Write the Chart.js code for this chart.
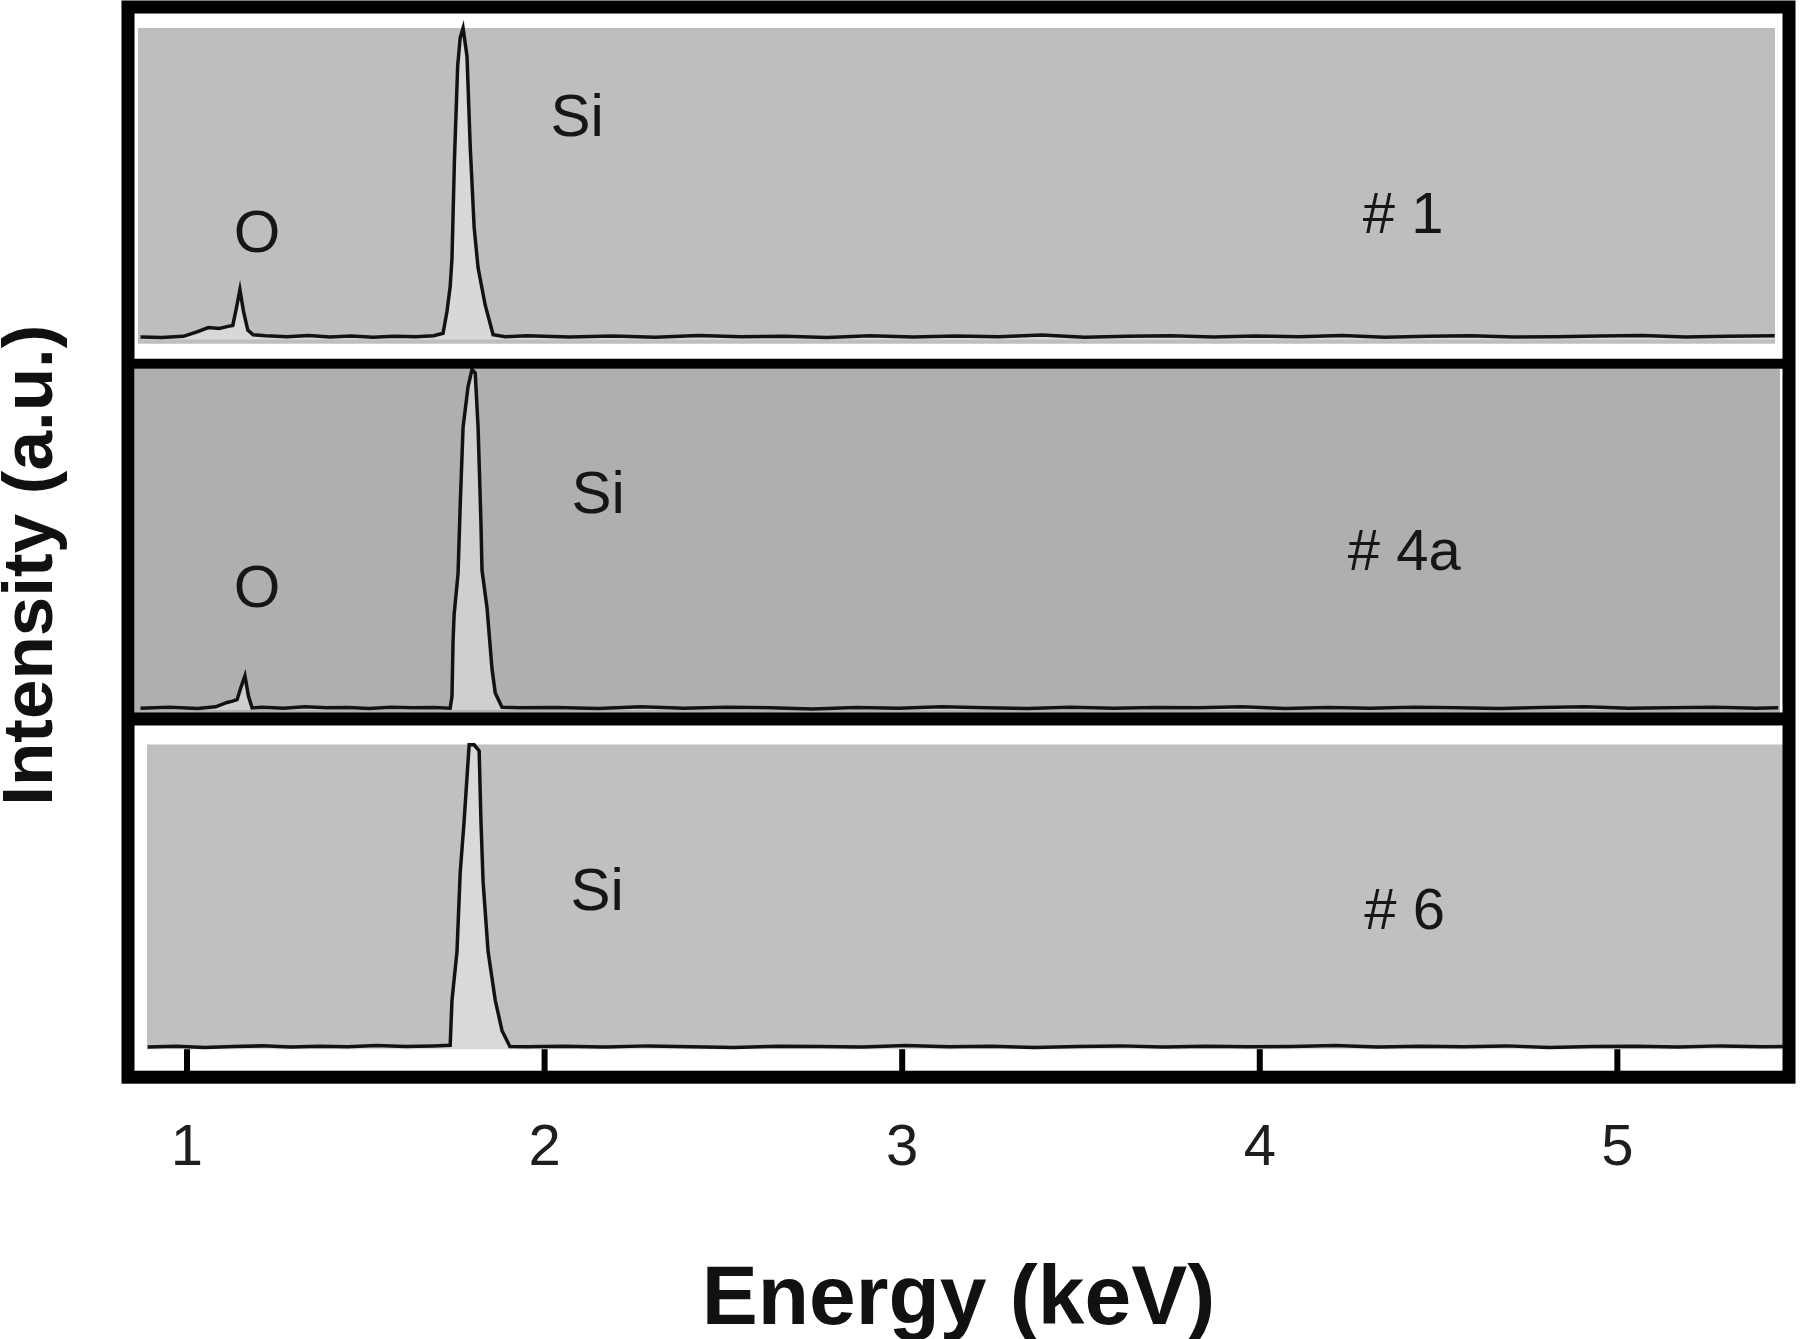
<!DOCTYPE html>
<html>
<head>
<meta charset="utf-8">
<script src="https://cdn.jsdelivr.net/npm/chart.js@4/dist/chart.umd.min.js"></script>
<style>
  html, body { margin: 0; padding: 0; background: #ffffff; }
  #wrap { position: relative; width: 1800px; height: 1339px; }
</style>
</head>
<body>
<div id="wrap"><canvas id="c"></canvas></div>
<script>
// ---------- data ----------
const tickValues = [1, 2, 3, 4, 5];
const xAxisTitle = 'Energy (keV)';
const yAxisTitle = 'Intensity (a.u.)';

// sample #1
const energy1 = [0.87,0.93,0.99,1.03,1.06,1.09,1.115,1.128,1.138,1.148,1.158,1.17,1.185,1.22,1.28,1.34,1.40,1.46,1.52,1.58,1.64,1.69,1.716,1.727,1.736,1.741,1.748,1.757,1.764,1.772,1.783,1.792,1.803,1.814,1.834,1.856,1.89,
  1.95,2.07,2.19,2.31,2.43,2.55,2.67,2.79,2.91,3.03,3.15,3.27,3.39,3.51,3.63,3.75,3.87,3.99,4.11,4.23,4.35,4.47,4.59,4.71,4.83,4.95,5.07,5.19,5.31,5.44];
const counts1 = [0.8,0.6,1.0,2.5,3.8,3.5,4.2,4.5,10,16,9,3,1.5,1.2,0.9,1.3,0.8,1.1,0.7,1.0,0.9,1.2,2,9,17,26,58,88,97,100,91,62,36,23,11,1.5,0.9,
  1.2,0.8,1.1,0.7,1.3,0.9,1.0,0.6,1.2,0.8,1.1,0.9,1.4,0.7,1.0,1.2,0.8,1.1,0.9,1.3,0.7,1.0,1.2,0.8,0.9,1.1,1.3,0.8,1.0,1.2];

// sample #4a
const energy2 = [0.87,0.95,1.03,1.08,1.112,1.125,1.14,1.152,1.162,1.172,1.182,1.21,1.27,1.33,1.39,1.45,1.51,1.57,1.63,1.69,1.736,1.741,1.744,1.747,1.758,1.764,1.772,1.786,1.797,1.806,1.814,1.822,1.825,1.839,1.853,1.862,1.881,1.93,
  2.03,2.15,2.27,2.39,2.51,2.63,2.75,2.87,2.99,3.11,3.23,3.35,3.47,3.59,3.71,3.83,3.95,4.07,4.19,4.31,4.43,4.55,4.67,4.79,4.91,5.03,5.15,5.27,5.39,5.45];
const counts2 = [0.5,0.8,0.4,0.9,2.2,2.5,3,7,10,4,0.6,0.8,0.5,0.9,0.6,0.7,0.4,0.8,0.6,0.7,0.5,4,20,28,40,60,83,95,100,99,83,55,41,30,12,5,0.8,0.6,
  0.7,0.4,0.9,0.5,0.8,0.6,0.3,0.7,0.5,0.9,0.6,0.4,0.8,0.5,0.7,0.6,0.9,0.4,0.7,0.5,0.8,0.6,0.4,0.7,0.9,0.5,0.6,0.8,0.5,0.6];

// sample #6
const energy3 = [0.89,0.97,1.05,1.13,1.21,1.29,1.37,1.45,1.53,1.61,1.69,1.736,1.741,1.755,1.764,1.775,1.789,1.803,1.817,1.822,1.828,1.842,1.862,1.881,1.903,1.95,
  2.05,2.17,2.29,2.41,2.53,2.65,2.77,2.89,3.01,3.13,3.25,3.37,3.49,3.61,3.73,3.85,3.97,4.09,4.21,4.33,4.45,4.57,4.69,4.81,4.93,5.05,5.17,5.29,5.41,5.48];
const counts3 = [0.6,0.9,0.5,0.8,1.0,0.6,0.9,0.7,1.1,0.8,1.0,1.2,16,32,58,75,100,100,98,75,55,32,16,6,0.8,0.7,
  0.9,0.6,1.0,0.7,0.5,0.9,0.8,0.6,1.1,0.7,0.9,0.5,0.8,1.0,0.6,0.9,0.7,0.8,1.1,0.6,0.9,0.7,1.0,0.5,0.8,0.9,0.6,1.0,0.7,0.8];

// peak / sample labels (text, panel, energy, intensity)
const labelText   = ['Si', 'O', '# 1', 'Si', 'O', '# 4a', 'Si', '# 6'];
const labelPanel  = ['y1', 'y1', 'y1', 'y2', 'y2', 'y2', 'y3', 'y3'];
const labelEnergy = [2.091, 1.196, 4.401, 2.150, 1.196, 4.404, 2.147, 4.405];
const labelLevel  = [70.6, 33.5, 39.4, 62.8, 35.1, 45.7, 51.2, 44.6];

// ---------- styling ----------
const FONT = "'Liberation Sans', Arial, Helvetica, sans-serif";
Chart.defaults.font.family = FONT;

const panelStyle = {
  y1: { color: '#bebebe', inset: { top: 21, bottom: 20, left: 10, right: 14 } },
  y2: { color: '#afafaf', inset: { top: 5, bottom: 7, left: 7, right: 9 } },
  y3: { color: '#c0c0c0', inset: { top: 24, bottom: 28, left: 19, right: 0 } }
};

const toPoints = (xs, ys) => xs.map((x, i) => ({ x: x, y: ys[i] }));

const lineStyle = {
  borderColor: '#121212',
  borderWidth: 3.5,
  pointRadius: 0,
  tension: 0,
  fill: 'origin',
  backgroundColor: 'rgba(255,255,255,0.4)'
};

const framePlugin = {
  id: 'framePlugin',
  beforeDatasetsDraw(chart) {
    const ctx = chart.ctx;
    const a = chart.chartArea;
    ctx.save();
    ctx.fillStyle = '#ffffff';
    ctx.fillRect(a.left, a.top, a.right - a.left, a.bottom - a.top);
    for (const id of ['y1', 'y2', 'y3']) {
      const s = chart.scales[id];
      const st = panelStyle[id];
      ctx.fillStyle = st.color;
      ctx.fillRect(a.left + st.inset.left, s.top + st.inset.top,
        (a.right - st.inset.right) - (a.left + st.inset.left),
        (s.bottom - st.inset.bottom) - (s.top + st.inset.top));
    }
    ctx.restore();
  },
  afterDatasetsDraw(chart) {
    const ctx = chart.ctx;
    const a = chart.chartArea;
    const x = chart.scales.x;
    const y1 = chart.scales.y1, y2 = chart.scales.y2, y3 = chart.scales.y3;
    ctx.save();
    ctx.fillStyle = '#000000';
    // separators between panels
    ctx.fillRect(a.left, y1.bottom - 5, a.right - a.left, 10);
    ctx.fillRect(a.left, y2.bottom - 8, a.right - a.left, 13);
    // inward ticks on the bottom axis
    const tickTop = y3.bottom - panelStyle.y3.inset.bottom;
    for (const t of x.ticks) {
      const px = x.getPixelForValue(t.value);
      ctx.fillRect(px - 3, tickTop, 6, a.bottom - tickTop);
    }
    // outer frame
    ctx.strokeStyle = '#000000';
    ctx.lineWidth = 13;
    ctx.strokeRect(a.left, a.top, a.right - a.left, a.bottom - a.top);
    // labels
    ctx.fillStyle = '#161616';
    ctx.textAlign = 'center';
    ctx.textBaseline = 'middle';
    labelText.forEach((txt, i) => {
      const s = chart.scales[labelPanel[i]];
      const size = txt.startsWith('#') ? 58 : 60;
      ctx.font = size + 'px ' + FONT;
      ctx.fillText(txt, x.getPixelForValue(labelEnergy[i]), s.getPixelForValue(labelLevel[i]));
    });
    ctx.restore();
  }
};

const hiddenAxis = (stack, weightInStack, w, min, max) => ({
  type: 'linear',
  position: 'left',
  stack: stack,
  stackWeight: weightInStack,
  weight: w,
  min: min,
  max: max,
  grid: { display: false, drawTicks: false },
  border: { display: false },
  ticks: { display: false },
  title: { display: false }
});

new Chart(document.getElementById('c'), {
  type: 'line',
  data: {
    datasets: [
      Object.assign({ label: '# 1', data: toPoints(energy1, counts1), yAxisID: 'y1' }, lineStyle),
      Object.assign({ label: '# 4a', data: toPoints(energy2, counts2), yAxisID: 'y2' }, lineStyle),
      Object.assign({ label: '# 6', data: toPoints(energy3, counts3), yAxisID: 'y3' }, lineStyle)
    ]
  },
  options: {
    responsive: true,
    maintainAspectRatio: false,
    devicePixelRatio: 1,
    animation: false,
    layout: { padding: { top: 7, right: 11, bottom: 0, left: 0 } },
    plugins: { legend: { display: false }, tooltip: { enabled: false } },
    scales: {
      x: {
        type: 'linear',
        position: 'bottom',
        min: 0.835,
        max: 5.48,
        grid: { display: false, drawTicks: false },
        border: { display: false },
        afterBuildTicks(scale) { scale.ticks = tickValues.map(v => ({ value: v })); },
        ticks: {
          stepSize: 1,
          includeBounds: false,
          padding: 37,
          color: '#1e1e1e',
          font: { size: 58, family: FONT },
          callback: v => String(v)
        },
        title: {
          display: true,
          text: xAxisTitle,
          color: '#111111',
          font: { size: 84, weight: 'bold', family: FONT, lineHeight: 0.9 },
          padding: { top: 42.6, bottom: 0 }
        }
      },
      yPad: hiddenAxis('ttl', 46, 6),
      yT: {
        type: 'linear',
        position: 'left',
        stack: 'ttl',
        stackWeight: 1020,
        weight: 5,
        grid: { display: false, drawTicks: false },
        border: { display: false },
        ticks: { display: false },
        title: {
          display: true,
          text: yAxisTitle,
          color: '#111111',
          font: { size: 71, weight: 'bold', family: FONT, lineHeight: 0.8 },
          padding: { top: 4, bottom: 67.2 }
        }
      },
      y1: hiddenAxis('panels', 1, 3, -7.8, 106.8),
      y2: hiddenAxis('panels', 1, 2, -3.1, 101.7),
      y3: hiddenAxis('panels', 1, 1, -9.3, 108.0)
    }
  },
  plugins: [framePlugin]
});
</script>
</body>
</html>
